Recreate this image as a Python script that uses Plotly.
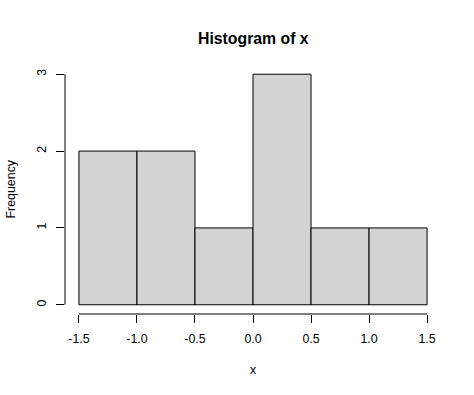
import plotly.graph_objects as go

bin_edges = [-1.5, -1.0, -0.5, 0.0, 0.5, 1.0, 1.5]
counts = [2, 2, 1, 3, 1, 1]
x_ticks = [-1.5, -1.0, -0.5, 0.0, 0.5, 1.0, 1.5]
x_ticklabels = ["-1.5", "-1.0", "-0.5", "0.0", "0.5", "1.0", "1.5"]
y_ticks = [0, 1, 2, 3]

centers = [(a + b) / 2 for a, b in zip(bin_edges[:-1], bin_edges[1:])]
widths = [b - a for a, b in zip(bin_edges[:-1], bin_edges[1:])]

font = "Liberation Sans, Arial, Helvetica, sans-serif"

fig = go.Figure(go.Bar(
    x=centers, y=counts, width=widths,
    marker=dict(color="#D3D3D3", line=dict(color="black", width=1)),
    hoverinfo="skip",
))

span = bin_edges[-1] - bin_edges[0]
xr = [bin_edges[0] - 0.04 * span, bin_edges[-1] + 0.04 * span]
ymax = max(y_ticks)
yr = [-0.04 * ymax, ymax * 1.04]

fig.update_layout(
    width=474, height=395,
    margin=dict(l=65, r=33, t=65, b=81),
    paper_bgcolor="white", plot_bgcolor="white",
    showlegend=False,
    font=dict(family=font, size=12.4, color="black"),
    bargap=0,
    xaxis=dict(range=xr, tickvals=x_ticks, ticktext=x_ticklabels, ticks="outside",
               ticklen=8, tickcolor="black", showgrid=False, zeroline=False,
               showline=False, ticklabelstandoff=5),
    yaxis=dict(range=yr, tickvals=y_ticks, ticks="outside", ticklen=8,
               tickcolor="black", showgrid=False, zeroline=False, showline=False,
               tickangle=-90, ticklabelstandoff=5),
    shapes=[
        dict(type="line", xref="x", yref="paper", x0=x_ticks[0], x1=x_ticks[-1], y0=0, y1=0,
             line=dict(color="black", width=1)),
        dict(type="line", xref="paper", yref="y", x0=0, x1=0, y0=y_ticks[0], y1=y_ticks[-1],
             line=dict(color="black", width=1)),
    ],
    annotations=[
        dict(text="<b>Histogram of x</b>", xref="paper", yref="paper", x=0.5, y=1,
             yshift=27, showarrow=False, font=dict(size=15.8), yanchor="middle"),
        dict(text="x", xref="paper", yref="paper", x=0.5, y=0, yshift=-56,
             showarrow=False, yanchor="middle"),
        dict(text="Frequency", xref="paper", yref="paper", x=0, y=0.5, xshift=-55,
             textangle=-90, showarrow=False, xanchor="center"),
    ],
)

fig.write_html("out.html", config={"displayModeBar": False, "staticPlot": True})
with open("out.html", encoding="utf-8") as f:
    html = f.read()
html = html.replace("<head>", "<head><style>html,body{margin:0;padding:0;overflow:hidden;}</style>", 1)
with open("out.html", "w", encoding="utf-8") as f:
    f.write(html)
